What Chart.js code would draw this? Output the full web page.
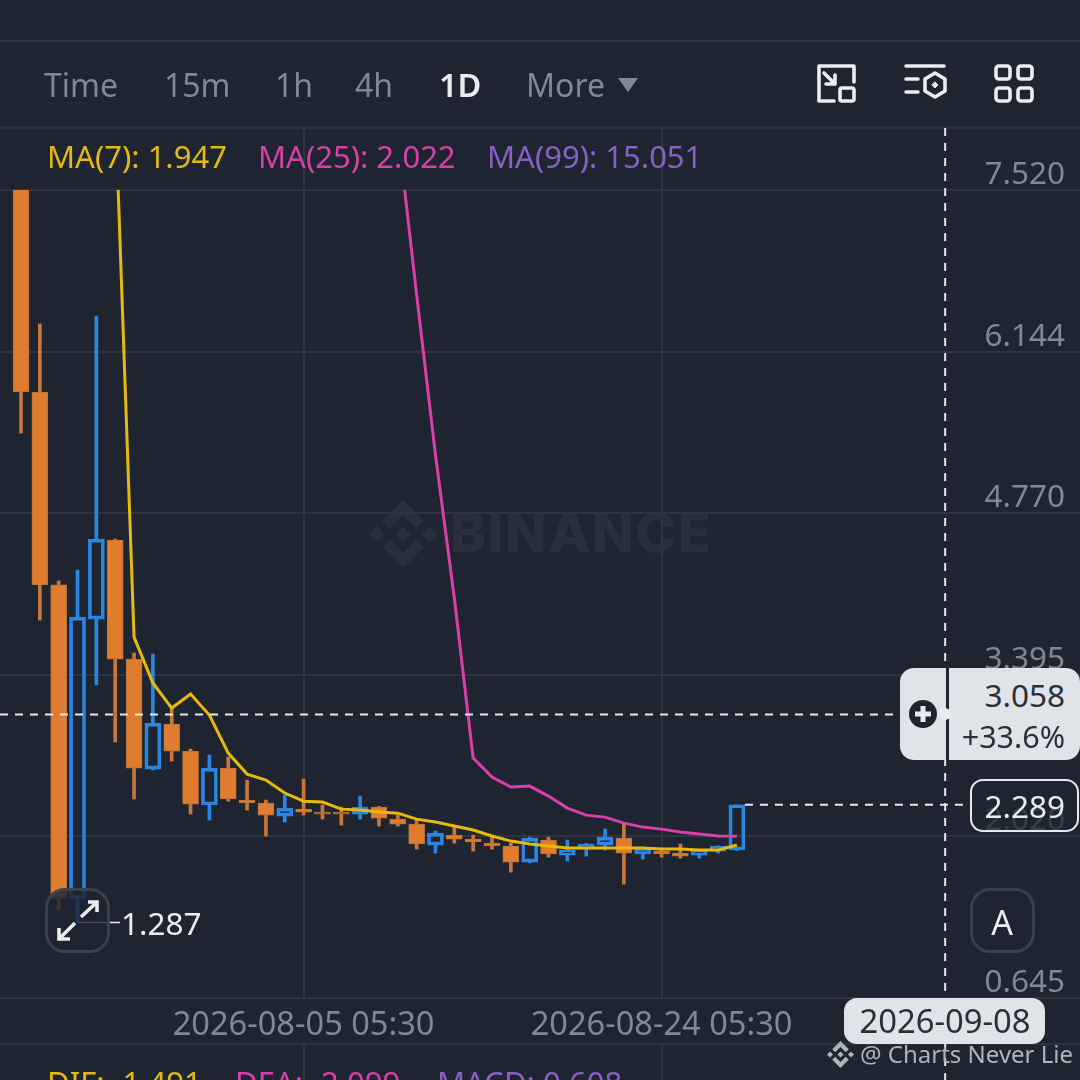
<!DOCTYPE html>
<html><head><meta charset="utf-8">
<script src="https://cdn.jsdelivr.net/npm/chart.js@4/dist/chart.umd.min.js"></script>
<style>
html,body{margin:0;padding:0;width:1080px;height:1080px;overflow:hidden;background:#1e2530;font-family:"Noto Sans",sans-serif}
#wrap{position:relative;width:1080px;height:1080px;overflow:hidden}
.l{position:absolute;background:#2e3540}
.t{position:absolute;white-space:nowrap;line-height:1;font-size:31px;transform:translateY(-50%)}
.g{color:#7f8894}
canvas{position:absolute;left:0;top:0;z-index:1}
.o{z-index:2}
.bg{z-index:0}
.btn{position:absolute;border:3px solid #39414d;border-radius:20px;background:rgba(30,37,48,.82);box-sizing:border-box;z-index:2}
svg{position:absolute}
</style></head><body><div id="wrap">
<div class="l bg" style="left:0;top:40px;width:1080px;height:2px"></div>
<div class="l bg" style="left:0;top:126px;width:1080px;height:3px;background:#2a303b"></div>
<div class="l bg" style="left:303px;top:128px;width:2px;height:62px"></div>
<div class="l bg" style="left:661px;top:128px;width:2px;height:62px"></div>
<div class="l bg" style="left:0;top:1043px;width:1080px;height:2px"></div>
<div class="l bg" style="left:303px;top:1044px;width:2px;height:36px"></div>
<div class="l bg" style="left:661px;top:1044px;width:2px;height:36px"></div>

<div class="t g o" style="left:44px;top:85px;font-size:32px">Time</div>
<div class="t g o" style="left:164px;top:85px;font-size:32px">15m</div>
<div class="t g o" style="left:275px;top:85px;font-size:32px">1h</div>
<div class="t g o" style="left:355px;top:85px;font-size:32px">4h</div>
<div class="t o" style="left:439px;top:85px;color:#eaecef;font-weight:600;font-size:32.5px">1D</div>
<div class="t g o" style="left:526px;top:85px;font-size:32px">More</div>
<svg class="o" style="left:618px;top:78px;z-index:2" width="20" height="14"><polygon points="0,0 20,0 10,14" fill="#7f8894"/></svg>

<svg style="left:810px;top:58px;z-index:2" width="240" height="52" fill="none" stroke="#eaecef" stroke-width="3.6" stroke-linecap="round" stroke-linejoin="round">
 <path d="M44 24V8H9v35h15"/><path d="M14 15l11 11M25 17v9H16"/><rect x="30" y="30" width="14" height="13" rx="2"/>
 <path d="M96 8h38M96 21h12M96 34h12"/><polygon points="125,15 135,21 135,33 125,39 115,33 115,21"/><polygon points="125,24 128,27 125,30 122,27" fill="#eaecef" stroke-width="1"/>
 <rect x="186" y="8" width="14" height="13" rx="3"/><rect x="208" y="8" width="14" height="13" rx="3"/><rect x="186" y="30" width="14" height="13" rx="3"/><rect x="208" y="30" width="14" height="13" rx="3"/>
</svg>

<div class="t o" style="left:47px;top:156px;color:#e7b90f">MA(7): 1.947</div>
<div class="t o" style="left:258px;top:156px;color:#d93fa9">MA(25): 2.022</div>
<div class="t o" style="left:487px;top:156px;color:#8a5fc4">MA(99): 15.051</div>

<svg class="bg" style="left:369px;top:500px;z-index:0" width="68" height="68" viewBox="0 0 126.61 126.61"><path fill="#2a303b" d="M38.73 53.2l24.59-24.58 24.6 24.6 14.3-14.31L63.32 0 24.43 38.9zM0 63.31l14.3-14.31 14.31 14.31-14.31 14.3zM38.73 73.41l24.59 24.59 24.6-24.6 14.31 14.29-38.9 38.91-38.91-38.88v-.02zM98 63.31l14.3-14.3 14.31 14.3-14.31 14.3zM77.83 63.3L63.32 48.78 52.59 59.51l-1.24 1.23-2.54 2.54 14.51 14.5 14.51-14.47z"/></svg>
<div class="t bg" style="left:450px;top:533px;font:800 54px Inter,sans-serif;letter-spacing:2px;color:#2a303b;line-height:1">BINANCE</div>

<div class="btn" style="left:45px;top:888px;width:65px;height:65px"></div>
<svg style="left:45px;top:888px;z-index:3" width="65" height="65" fill="none" stroke="#eaecef" stroke-width="3.6"><path d="M36 29L52 14M43 14h9v10M30 35L14 51M14 40v11h11"/></svg>
<div class="t o" style="left:121px;top:923px;color:#eaecef;font-size:31.5px">1.287</div>

<div class="btn" style="left:970px;top:888px;width:65px;height:65px;background:none"></div>
<div class="t o" style="left:1002px;top:922px;transform:translate(-50%,-50%);color:#eaecef;font-size:34px">A</div>

<div class="o" style="position:absolute;left:900px;top:668px;width:180px;height:92px;background:#e0e3e8;border-radius:14px"></div>
<div class="o" style="position:absolute;left:946px;top:668px;width:3px;height:92px;background:#1e2530"></div>
<svg style="left:905px;top:696px;z-index:3" width="50" height="36"><circle cx="18" cy="18" r="14" fill="#1e2530"/><path d="M18 10v16M10 18h16" stroke="#e9ebee" stroke-width="5"/><circle cx="40" cy="18" r="6" fill="#e9ebee"/></svg>
<div class="t o" style="right:15px;top:695px;color:#29303b;z-index:3;font-size:31.5px">3.058</div>
<div class="t o" style="right:15px;top:736px;color:#29303b;z-index:3;font-size:30.5px">+33.6%</div>

<div class="o" style="position:absolute;left:970px;top:779px;width:109px;height:53px;box-sizing:border-box;border:2px solid #e6e8ec;border-radius:13px;background:rgba(30,37,48,.75)"></div>
<div class="t o" style="right:15px;top:806px;color:#eaecef;z-index:3;font-size:31.5px">2.289</div>

<div class="o" style="position:absolute;left:844px;top:998px;width:201px;height:46px;background:#e0e3e8;border-radius:13px"></div>
<div class="t o" style="left:945px;top:1021px;transform:translate(-50%,-50%);color:#29303b;z-index:3;font-size:32.8px">2026-09-08</div>

<svg style="left:827px;top:1041px;z-index:3" width="27" height="27" viewBox="0 0 126.61 126.61"><path fill="#aeb4bd" d="M38.73 53.2l24.59-24.58 24.6 24.6 14.3-14.31L63.32 0 24.43 38.9zM0 63.31l14.3-14.31 14.31 14.31-14.31 14.3zM38.73 73.41l24.59 24.59 24.6-24.6 14.31 14.29-38.9 38.91-38.91-38.88v-.02zM98 63.31l14.3-14.3 14.31 14.3-14.31 14.3zM77.83 63.3L63.32 48.78 52.59 59.51l-1.24 1.23-2.54 2.54 14.51 14.5 14.51-14.47z"/></svg>
<div class="t o" style="left:860px;top:1054px;color:#aeb4bd;font-size:24px;z-index:3">@ Charts Never Lie</div>

<div class="t o" style="left:47px;top:1082px;color:#e7b90f">DIF: -1.491</div>
<div class="t o" style="left:235px;top:1082px;color:#d93fa9">DEA: -2.099</div>
<div class="t o" style="left:437px;top:1082px;color:#8a5fc4">MACD: 0.608</div>

<canvas id="c" width="1080" height="1080"></canvas>
</div>
<script>
const dates = ["2026-07-21","2026-07-22","2026-07-23","2026-07-24","2026-07-25","2026-07-26","2026-07-27","2026-07-28","2026-07-29","2026-07-30","2026-07-31",
"2026-08-01","2026-08-02","2026-08-03","2026-08-04","2026-08-05","2026-08-06","2026-08-07","2026-08-08","2026-08-09","2026-08-10","2026-08-11","2026-08-12","2026-08-13","2026-08-14","2026-08-15","2026-08-16","2026-08-17","2026-08-18","2026-08-19","2026-08-20","2026-08-21","2026-08-22","2026-08-23","2026-08-24","2026-08-25","2026-08-26","2026-08-27","2026-08-28"];
const opens  = [9.0,5.80,4.16,1.49,3.869,4.542,3.529,2.593,2.976,2.746,2.287,2.601,2.329,2.304,2.193,2.252,2.227,2.227,2.210,2.270,2.167,2.125,1.946,2.031,1.997,1.963,1.938,1.801,1.989,1.861,1.912,1.946,2.006,1.870,1.895,1.878,1.861,1.895,1.904];
const closes = [5.801,4.159,1.495,3.886,4.550,3.529,2.601,2.984,2.746,2.295,2.601,2.338,2.304,2.201,2.261,2.227,2.210,2.210,2.270,2.176,2.125,1.955,2.048,1.997,1.972,1.938,1.801,2.006,1.870,1.904,1.955,2.014,1.878,1.921,1.870,1.852,1.904,1.938,2.289];
const highs  = [9.3,6.380,4.193,4.286,6.448,4.55,3.580,3.572,3.120,2.763,2.712,2.695,2.499,2.329,2.372,2.508,2.287,2.270,2.363,2.275,2.201,2.159,2.065,2.099,2.031,2.014,1.963,2.014,2.014,1.989,1.96,2.082,2.133,1.93,1.921,1.955,1.91,1.94,2.289];
const lows   = [5.452,3.861,1.393,1.287,3.308,2.823,2.338,2.585,2.661,2.210,2.159,2.320,2.244,2.023,2.142,2.201,2.167,2.116,2.167,2.108,2.108,1.912,1.878,1.963,1.895,1.912,1.716,1.795,1.844,1.810,1.852,1.904,1.614,1.827,1.844,1.835,1.835,1.878,1.90];
const ma7  = [null,null,null,null,null,8.235,3.716,3.325,3.112,3.231,3.052,2.729,2.550,2.499,2.389,2.320,2.312,2.252,2.244,2.227,2.218,2.167,2.142,2.108,2.074,2.023,1.980,1.955,1.938,1.921,1.921,1.921,1.921,1.921,1.912,1.912,1.904,1.904,1.947];
const ma25 = [null,null,null,null,null,null,null,null,null,null,null,null,null,null,null,null,null,null,null,null,8.03,6.627,5.265,4.048,2.686,2.525,2.440,2.448,2.363,2.261,2.201,2.184,2.133,2.099,2.082,2.057,2.040,2.023,2.022];
const yTicks = [7.520,6.144,4.770,3.395,2.020,0.645];
const xTickIndex = [15,34];
const xTickLabels = ["2026-08-05 05:30","2026-08-24 05:30"];
const cursorIndex = 49;
const cursorPrice = 3.058;
const lastPrice = 2.289;
const lowPrice = 1.287;
const lowIndex = 3;

const ORANGE="#df7c2d", ORANGE_W="#c8763a", BLUE="#2a86e2", BG="#1e2530", GRID="#2e3540";
const idx = dates.map((_,i)=>i);
const up = idx.filter(i=>closes[i]>=opens[i]), down = idx.filter(i=>closes[i]<opens[i]);
const upperWick = l=>l.map(i=>({x:i,y:[Math.max(opens[i],closes[i]),highs[i]]}));
const lowerWick = l=>l.map(i=>({x:i,y:[lows[i],Math.min(opens[i],closes[i])]}));
const bodies = l=>l.map(i=>({x:i,y:[opens[i],closes[i]]}));
const line = a=>idx.map(i=>({x:i,y:a[i]}));
const wick = (data,color)=>({type:"bar",data,backgroundColor:color,borderWidth:0,barThickness:3,grouped:false,order:5});

const overlay = {id:"overlay",afterDatasetsDraw(ch){
  const c=ch.ctx,x=ch.scales.x,y=ch.scales.y;
  const px=x.getPixelForValue(cursorIndex)+1,cy=y.getPixelForValue(cursorPrice),ly=y.getPixelForValue(lastPrice),my=y.getPixelForValue(lowPrice);
  c.save();c.strokeStyle="#e6e8ec";c.lineWidth=2;c.setLineDash([8,7]);
  c.beginPath();c.moveTo(px,128);c.lineTo(px,1080);c.moveTo(0,cy);c.lineTo(900,cy);
  c.moveTo(x.getPixelForValue(38)+8,ly);c.lineTo(970,ly);c.stroke();
  c.setLineDash([]);c.lineWidth=1.5;c.beginPath();c.moveTo(x.getPixelForValue(lowIndex),my);c.lineTo(120,my);c.stroke();
  c.restore();
}};

new Chart(document.getElementById("c"),{
  type:"bar",
  plugins:[overlay],
  data:{datasets:[
    wick(upperWick(down),ORANGE_W),wick(lowerWick(down),ORANGE_W),
    wick(upperWick(up),BLUE),wick(lowerWick(up),BLUE),
    {type:"bar",label:"down",data:bodies(down),backgroundColor:ORANGE,borderColor:"#b8713a",borderWidth:1,borderSkipped:false,barThickness:16,grouped:false,order:4},
    {type:"bar",label:"up",data:bodies(up),backgroundColor:"rgba(0,0,0,0)",borderColor:BLUE,borderWidth:3,borderSkipped:false,barThickness:16,grouped:false,order:4},
    {type:"line",label:"MA(25)",data:line(ma25),borderColor:"#d93fa9",borderWidth:3,pointRadius:0,tension:0,order:2},
    {type:"line",label:"MA(7)",data:line(ma7),borderColor:"#e7b90f",borderWidth:3,pointRadius:0,tension:0,order:1}
  ]},
  options:{
    responsive:false,animation:false,devicePixelRatio:1,
    layout:{padding:{top:190,left:0,right:0,bottom:0},autoPadding:false},
    plugins:{legend:{display:false},tooltip:{enabled:false}},
    scales:{
      x:{type:"linear",offset:false,min:-1.115,max:56.21,
        afterBuildTicks:s=>{s.ticks=xTickIndex.map(v=>({value:v}));},
        afterFit:s=>{s.height=82;},
        grid:{offset:false,color:GRID,lineWidth:2,drawTicks:false},border:{display:false},
        ticks:{autoSkip:false,maxRotation:0,padding:8,color:"#7f8894",font:{family:"Noto Sans",size:32.6},
          callback:v=>xTickLabels[xTickIndex.indexOf(v)]}},
      y:{type:"linear",position:"right",min:0.645,max:7.52,
        afterBuildTicks:s=>{s.ticks=yTicks.map(v=>({value:v}));},
        afterFit:s=>{s.width=0;},
        grid:{color:GRID,lineWidth:2,drawTicks:false},border:{display:false},
        ticks:{mirror:true,padding:-15,labelOffset:-15,autoSkip:false,color:"#7f8894",font:{family:"Noto Sans",size:31.5},
          callback:v=>v.toFixed(3)}}
    }
  }
});
</script></body></html>
